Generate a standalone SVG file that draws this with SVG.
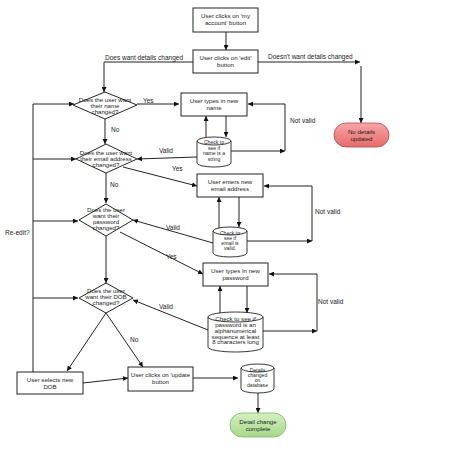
<svg xmlns="http://www.w3.org/2000/svg" width="452" height="452" viewBox="0 0 452 452">
<defs>
<marker id="ah" viewBox="0 0 10 10" refX="10" refY="5" markerWidth="5" markerHeight="5" orient="auto" markerUnits="userSpaceOnUse"><path d="M0,0 L10,5 L0,10 Z" fill="#111"/></marker>
<linearGradient id="red" x1="0" y1="0" x2="0" y2="1"><stop offset="0" stop-color="#f7a5a5"/><stop offset="1" stop-color="#e86a6a"/></linearGradient>
<linearGradient id="green" x1="0" y1="0" x2="0" y2="1"><stop offset="0" stop-color="#d4f0c0"/><stop offset="1" stop-color="#a6d98a"/></linearGradient>
</defs>
<style>
text{font-family:"Liberation Sans",Arial,sans-serif;font-size:6.1px;fill:#222;text-anchor:middle}
.lbl{text-anchor:start;font-size:6.5px}
.sm{font-size:5.1px}
.box{fill:#fff;stroke:#222;stroke-width:1}
.cyl{fill:#fff;stroke:#222;stroke-width:0.9}
.c{fill:none;stroke:#222;stroke-width:1;marker-end:url(#ah)}
.n{fill:none;stroke:#222;stroke-width:1}
</style>
<rect width="452" height="452" fill="#fff"/>
<g id="connectors">
<path class="c" d="M226,32 V50"/>
<path class="c" d="M193,62 H104 V92"/>
<path class="c" d="M258,62 H360"/>
<path class="c" d="M361,66 V123"/>
<path class="c" d="M137,104 H179"/>
<path class="c" d="M105,119 V144"/>
<path class="c" d="M226,116 V137"/>
<path class="c" d="M206,140 V116"/>
<path class="c" d="M231,151 H285"/>
<path class="c" d="M285,151 V104 H248"/>
<path class="c" d="M197,157 L137,159"/>
<path class="c" d="M123,167 L197,186"/>
<path class="c" d="M106,173 V203"/>
<path class="c" d="M239,197 V227"/>
<path class="c" d="M219,230 V197"/>
<path class="c" d="M247,241 H312"/>
<path class="c" d="M312,241 V186 H264"/>
<path class="c" d="M213,243 L133,220"/>
<path class="c" d="M120,232 L203,274"/>
<path class="c" d="M106,236 V283"/>
<path class="c" d="M247,286 V313"/>
<path class="c" d="M220,316 V286"/>
<path class="c" d="M263,331 H317"/>
<path class="c" d="M317,331 V274 H269"/>
<path class="c" d="M208,330 L133,300"/>
<path class="c" d="M106,313 L67,371"/>
<path class="c" d="M106,313 L143,367"/>
<path class="c" d="M83,383 L128,378"/>
<path class="c" d="M193,378 L238,378"/>
<path class="c" d="M258,393 V413"/>
<path class="n" d="M33,372 V104"/>
<path class="c" d="M33,104 H74"/>
<path class="c" d="M33,159 H76"/>
<path class="c" d="M33,221 H78"/>
<path class="c" d="M33,298 H78"/>
<text class="lbl" x="105" y="60">Does want details changed</text>
<text class="lbl" x="268" y="59">Doesn't want details changed</text>
<text class="lbl" x="143" y="103">Yes</text>
<text class="lbl" x="111" y="132">No</text>
<text class="lbl" x="290" y="123">Not valid</text>
<text class="lbl" x="159" y="153">Valid</text>
<text class="lbl" x="172" y="171">Yes</text>
<text class="lbl" x="110" y="187">No</text>
<text class="lbl" x="315" y="214">Not valid</text>
<text class="lbl" x="166" y="230">Valid</text>
<text class="lbl" x="166" y="259">Yes</text>
<text class="lbl" x="5" y="235">Re-edit?</text>
<text class="lbl" x="318" y="304">Not valid</text>
<text class="lbl" x="159" y="309">Valid</text>
<text class="lbl" x="130" y="342">No</text>
</g>
<g id="n1"><rect class="box" x="193" y="8" width="65" height="24"/><text x="225.5" y="18">User clicks on  'my</text><text x="225.5" y="25">account' button</text></g>
<g id="n2"><rect class="box" x="193" y="50" width="65" height="23"/><text x="225.5" y="60">User clicks on 'edit'</text><text x="225.5" y="67">button</text></g>
<g id="n3"><rect x="334" y="123" width="55" height="24" rx="12" fill="url(#red)" stroke="#b34a4a" stroke-width="0.8"/><text x="361.5" y="134">No details</text><text x="361.5" y="141">updated</text></g>
<g id="d1"><path class="box" d="M105,92 L137,105 L105,119 L73,105 Z"/><text x="105" y="102">Does the user want</text><text x="105" y="108">their name</text><text x="105" y="114">changed?</text></g>
<g id="n4"><rect class="box" x="181" y="93" width="66" height="23"/><text x="214" y="103">User types in new</text><text x="214" y="110">name</text></g>
<g id="c1"><path class="cyl" d="M197,141 A17,4 0 0 1 231,141 V163 A17,4 0 0 1 197,163 Z M197,141 A17,4 0 0 0 231,141"/><text class="sm" x="214" y="144">Check to</text><text class="sm" x="214" y="149.7">see if</text><text class="sm" x="214" y="155.4">name is a</text><text class="sm" x="214" y="161">string</text></g>
<g id="d2"><path class="box" d="M106,144 L137,159 L106,173 L76,159 Z"/><text x="106" y="155">Does the user want</text><text x="106" y="161">their email address</text><text x="106" y="167">changed?</text></g>
<g id="n5"><rect class="box" x="197" y="174" width="66" height="23"/><text x="230" y="184">User enters new</text><text x="230" y="191">email address</text></g>
<g id="c2"><path class="cyl" d="M213,231 A17,4 0 0 1 247,231 V253 A17,4 0 0 1 213,253 Z M213,231 A17,4 0 0 0 247,231"/><text class="sm" x="230" y="234.5">Check to</text><text class="sm" x="230" y="239.8">see if</text><text class="sm" x="230" y="245.1">email is</text><text class="sm" x="230" y="250.4">valid.</text></g>
<g id="d3"><path class="box" d="M106,204 L133,220 L106,236 L79,220 Z"/><text x="106" y="212">Does the user</text><text x="106" y="218">want their</text><text x="106" y="224">password</text><text x="106" y="230">changed?</text></g>
<g id="n6"><rect class="box" x="203" y="263" width="65" height="23"/><text x="235.5" y="273">User types In new</text><text x="235.5" y="280">password</text></g>
<g id="c3"><path class="cyl" d="M208,317 A27.5,5 0 0 1 263,317 V347 A27.5,5 0 0 1 208,347 Z M208,317 A27.5,5 0 0 0 263,317"/><text x="235.5" y="321">Check to see if</text><text x="235.5" y="327">password is an</text><text x="235.5" y="333">alphanumerical</text><text x="235.5" y="338.5">sequence at least</text><text x="235.5" y="344">8 characters long</text></g>
<g id="d4"><path class="box" d="M106,283 L133,298 L106,313 L79,298 Z"/><text x="106" y="293">Does the user</text><text x="106" y="299">want their DOB</text><text x="106" y="305">changed?</text></g>
<g id="n7"><rect class="box" x="17" y="372" width="66" height="22"/><text x="50" y="382">User selects new</text><text x="50" y="389">DOB</text></g>
<g id="n8"><rect class="box" x="128" y="367" width="65" height="24"/><text x="160.5" y="377">User clicks on 'update</text><text x="160.5" y="384">button</text></g>
<g id="c4"><path class="cyl" d="M241,368 A16.5,4 0 0 1 274,368 V389 A16.5,4 0 0 1 241,389 Z M241,368 A16.5,4 0 0 0 274,368"/><text class="sm" x="257.5" y="371.5">Details</text><text class="sm" x="257.5" y="376.8">changed</text><text class="sm" x="257.5" y="382.1">on</text><text class="sm" x="257.5" y="387.4">database</text></g>
<g id="n9"><rect x="230" y="413" width="56" height="24" rx="12" fill="url(#green)" stroke="#7fb565" stroke-width="0.8"/><text x="258" y="424">Detail change</text><text x="258" y="431">complete</text></g>
</svg>
